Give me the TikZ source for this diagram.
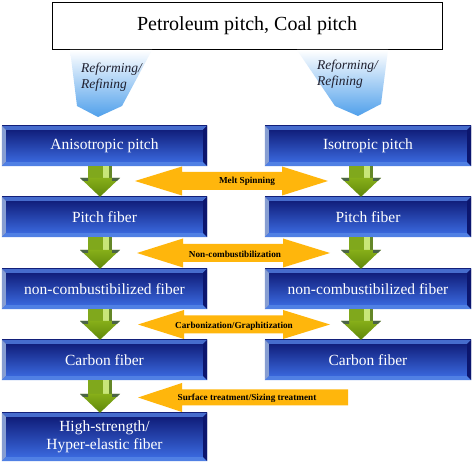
\documentclass[tikz,border=0pt]{standalone}
\usepackage{fontspec}
\setmainfont{Liberation Serif}
\usetikzlibrary{calc}
\definecolor{navy}{RGB}{12,22,112}
\definecolor{facebot}{RGB}{62,112,232}
\definecolor{bvtop}{RGB}{70,108,205}
\definecolor{bvleft}{RGB}{135,158,210}
\definecolor{bvbot}{RGB}{80,128,228}
\definecolor{bvright}{RGB}{12,22,110}
\definecolor{gmid}{RGB}{128,168,28}
\definecolor{glight}{RGB}{200,230,120}
\definecolor{gedge}{RGB}{100,135,40}
\definecolor{ghtop}{RGB}{135,175,25}
\definecolor{ghbot}{RGB}{95,135,10}
\definecolor{gwing}{RGB}{75,100,70}
\definecolor{orangearrow}{RGB}{255,182,12}
\definecolor{funblue}{RGB}{80,160,235}
\definecolor{funtext}{RGB}{30,30,45}
\tikzset{
  bluebox/.style={inner sep=0pt, minimum width=205pt, minimum height=40pt,
    top color=navy, bottom color=facebot, text=white,
    font=\fontsize{15.5}{18}\selectfont, align=center},
  srcbox/.style={draw=black, line width=0.8pt, inner sep=0pt, minimum width=390pt,
    minimum height=47pt, font=\fontsize{20}{22}\selectfont},
  olabel/.style={inner sep=0pt, font=\fontsize{9.2}{10}\selectfont\bfseries, text=black},
  rlabel/.style={inner sep=0pt, anchor=north west, align=left, text=funtext,
    font=\itshape\fontsize{13.5}{16}\selectfont},
  oarrow/.style={fill=orangearrow},
  funnel/.style={top color=white, bottom color=funblue}
}
\newcommand\bevel[1]{%
  \fill[bvtop] (#1.north west) -- (#1.north east) -- ($(#1.north east)+(-4,4)$) -- ($(#1.north west)+(4,4)$) -- cycle;
  \fill[bvleft] (#1.north west) -- ($(#1.north west)+(4,4)$) -- ($(#1.south west)+(4,-4)$) -- (#1.south west) -- cycle;
  \fill[bvbot] (#1.south west) -- ($(#1.south west)+(4,-4)$) -- ($(#1.south east)+(-4,-4)$) -- (#1.south east) -- cycle;
  \fill[bvright] (#1.south east) -- ($(#1.south east)+(-4,-4)$) -- ($(#1.north east)+(-4,4)$) -- (#1.north east) -- cycle;
}
\newcommand\garrow[3]{%
  \fill[gmid] let \p1=($(#1.south)+(#3,0)$), \p2=($(#2.north)+(#3,0)$) in
    (\x1-12pt,\y1) -- (\x1+12pt,\y1) -- (\x1+12pt,\y2+19pt) -- (\x1-12pt,\y2+19pt) -- cycle;
  \fill[glight] let \p1=($(#1.south)+(#3,0)$), \p2=($(#2.north)+(#3,0)$) in
    (\x1+3pt,\y1) -- (\x1+9pt,\y1) -- (\x1+9pt,\y2+19pt) -- (\x1+3pt,\y2+19pt) -- cycle;
  \fill[gedge] let \p1=($(#1.south)+(#3,0)$), \p2=($(#2.north)+(#3,0)$) in
    (\x1+9pt,\y1) -- (\x1+12pt,\y1) -- (\x1+12pt,\y2+19pt) -- (\x1+9pt,\y2+19pt) -- cycle;
  \shade[top color=ghtop, bottom color=ghbot] let \p1=($(#1.south)+(#3,0)$), \p2=($(#2.north)+(#3,0)$) in
    (\x1-20pt,\y2+19pt) -- (\x1+20pt,\y2+19pt) -- (\x1,\y2) -- cycle;
  \fill[gwing] let \p1=($(#1.south)+(#3,0)$), \p2=($(#2.north)+(#3,0)$) in
    (\x1-20pt,\y2+19pt) -- (\x1-12pt,\y2+19pt) -- (\x1-12pt,\y2+16pt) -- (\x1-17pt,\y2+16pt) -- cycle
    (\x1+20pt,\y2+19pt) -- (\x1+12pt,\y2+19pt) -- (\x1+12pt,\y2+16pt) -- (\x1+17pt,\y2+16pt) -- cycle;
}
\begin{document}
\begin{tikzpicture}[x=1pt, y=-1pt]
\useasboundingbox (0,0) rectangle (472,465);
\fill[white] (0,0) rectangle (472,465);

% source box
\node[srcbox] (src) at (247,25.5) {Petroleum pitch, Coal pitch};

% funnels
\shade[funnel] (70,50) -- (152,50) -- (122,106) -- (98,117) -- (77,106) -- cycle;
\shade[funnel] (297,50) -- (388,50) -- (381,104) -- (358,116) -- (335,106) -- cycle;
\node[rlabel] (rl) at (81,63) {Reforming/\\Refining};
\node[rlabel] (rr) at (317,60) {Reforming/\\Refining};

% left column
\node[bluebox] (a1) at (104.5,146) {Anisotropic pitch};
\node[bluebox] (a2) at (104.5,217) {Pitch fiber};
\node[bluebox] (a3) at (104.5,289) {non-combustibilized fiber};
\node[bluebox] (a4) at (104.5,360) {Carbon fiber};
\node[bluebox, minimum height=48pt] (a5) at (104.5,437) {High-strength/\\Hyper-elastic fiber};
% right column
\node[bluebox, minimum width=206pt] (b1) at (368,146) {Isotropic pitch};
\node[bluebox, minimum width=206pt] (b2) at (368,217) {Pitch fiber};
\node[bluebox, minimum width=206pt] (b3) at (368,289) {non-combustibilized fiber};
\node[bluebox, minimum width=206pt] (b4) at (368,360) {Carbon fiber};

\foreach \n in {a1,a2,a3,a4,a5,b1,b2,b3,b4} {\bevel{\n}}

% green arrows
\garrow{a1}{a2}{-4.5}
\garrow{a2}{a3}{-4.5}
\garrow{a3}{a4}{-4.5}
\garrow{a4}{a5}{-4.5}
\garrow{b1}{b2}{-7}
\garrow{b2}{b3}{-7}
\garrow{b3}{b4}{-7}

% orange process arrows
\fill[oarrow] (135,181) -- (182,166.5) -- (182,172) -- (282,172) -- (282,166.5) -- (328,181)
  -- (282,195.5) -- (282,190) -- (182,190) -- (182,195.5) -- cycle;
\fill[oarrow] (137,253) -- (183,238.5) -- (183,244) -- (283,244) -- (283,238.5) -- (330,253)
  -- (283,267.5) -- (283,262) -- (183,262) -- (183,267.5) -- cycle;
\fill[oarrow] (138,324.5) -- (184,310) -- (184,315.5) -- (283,315.5) -- (283,310) -- (330,324.5)
  -- (283,339) -- (283,333.5) -- (184,333.5) -- (184,339) -- cycle;
\fill[oarrow] (138,397.5) -- (182,383) -- (182,389.5) -- (348,389.5) -- (348,405.5) -- (182,405.5)
  -- (182,412) -- cycle;

\node[olabel] (m1) at (247,181) {Melt Spinning};
\node[olabel] (m2) at (235,254) {Non-combustibilization};
\node[olabel] (m3) at (234,326) {Carbonization/Graphitization};
\node[olabel] (m4) at (247,398) {Surface treatment/Sizing treatment};
\end{tikzpicture}
\end{document}
